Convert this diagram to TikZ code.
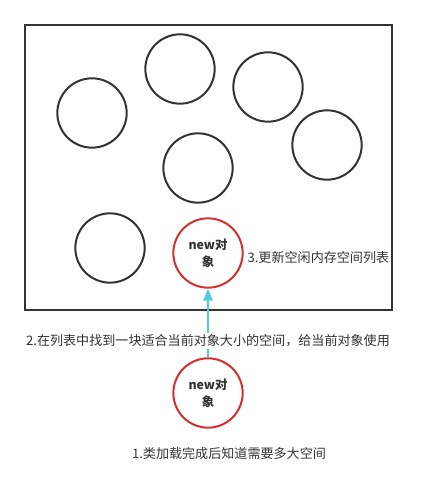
\documentclass[tikz,border=0pt]{standalone}
\usepackage{fontspec}
\newfontfamily\cjk{Noto Sans CJK SC}
\usetikzlibrary{arrows.meta}
\definecolor{objred}{RGB}{212,48,48}
\definecolor{linkcyan}{RGB}{77,203,224}
\definecolor{inkgray}{RGB}{51,51,51}
\begin{document}
\begin{tikzpicture}[x=0.75pt, y=-0.75pt,
    hole/.style={circle, draw=inkgray, line width=1.5pt, minimum size=52pt, inner sep=0pt},
    obj/.style={hole, draw=objred, text=inkgray, align=center,
      font=\cjk\bfseries\fontsize{9.3pt}{12.5pt}\selectfont},
    note/.style={text=inkgray, inner sep=1pt, font=\cjk\fontsize{9.8pt}{11pt}\selectfont}]

    \useasboundingbox (0,0) rectangle (424,498);
    \draw[inkgray, line width=1.5pt] (25,25) rectangle (392,310);

    % free space
    \node[hole] at (92,113) (h1) {};
    \node[hole] at (180,69) (h2) {};
    \node[hole] at (268,87) (h3) {};
    \node[hole] at (327,145) (h4) {};
    \node[hole] at (198,168) (h5) {};
    \node[hole] at (110,248) (h6) {};

    \node[obj] at (208,253) (o1) {new对\\象};
    \node[obj] at (208,393) (o2) {new对\\象};

    \draw[-{Triangle[length=9pt, width=7pt]}, linkcyan, line width=1.5pt] (o2) -- (o1);

    \node[note, fill=white] at (208,341) (s2) {2.在列表中找到一块适合当前对象大小的空间，给当前对象使用};
    \node[note, anchor=west] at (246,258) (s3) {3.更新空闲内存空间列表};
    \node[note] at (229,454) (s1) {1.类加载完成后知道需要多大空间};
  \end{tikzpicture}
\end{document}
